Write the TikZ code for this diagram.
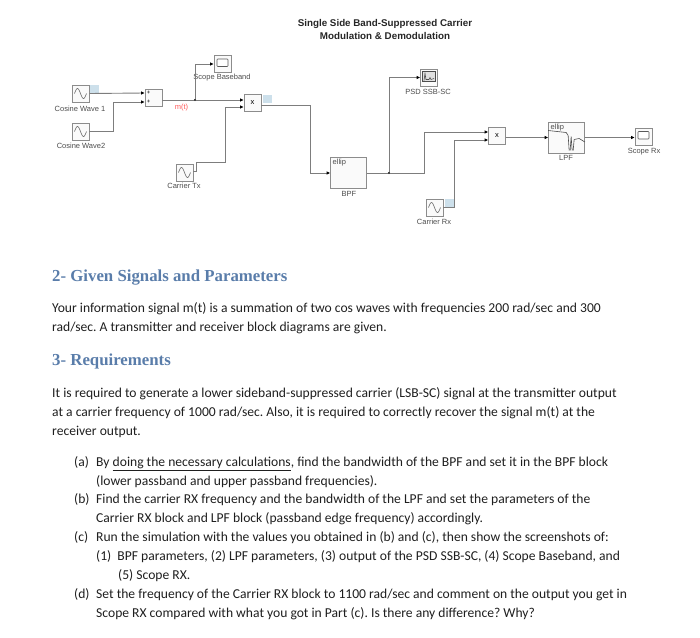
\documentclass[tikz,border=0pt]{standalone}
\usepackage{fontspec}
\setmainfont{Carlito}
\newfontfamily\labelfont{Liberation Sans}
\newfontfamily\headfont{Liberation Serif}
\usetikzlibrary{positioning,calc,arrows.meta}
\definecolor{headblue}{RGB}{90,125,170}
\definecolor{tagblue}{RGB}{205,224,235}
\definecolor{wiregray}{RGB}{125,125,125}
\newcommand{\sineicon}[1]{%
  \draw[shift={(#1)},black!60,line width=0.6pt,domain=-6:6,samples=30,smooth]
    plot (\x,{-5*sin(\x*30+180)});}

\begin{document}
\frenchspacing
\begin{tikzpicture}[x=1pt,y=-1pt,font=\labelfont\fontsize{7.5}{9}\selectfont]
  \tikzset{
    block/.style={draw=black!45,fill=black!2,line width=0.7pt,inner sep=0pt,
                  minimum width=17pt,minimum height=17pt},
    filt/.style={block,minimum width=36pt,minimum height=31pt},
    tag/.style={fill=tagblue,inner sep=0pt,minimum width=9pt,minimum height=8pt},
    blab/.style={text=black!70,inner sep=0pt},
    wire/.style={draw=wiregray,line width=0.9pt},
    sig/.style={wire,-{Latex[length=3.5pt,width=3.5pt,black]}},
    dot/.style={circle,fill=black,inner sep=0pt,minimum size=2.2pt},
    body/.style={anchor=base west,inner sep=0pt,text=black!88,
                 font=\rmfamily\fontsize{13.6}{15}\selectfont},
    head/.style={anchor=base west,inner sep=0pt,text=headblue,
                 font=\headfont\bfseries\fontsize{16.8}{18}\selectfont},
    ttl/.style={inner sep=0pt,text=black!85,font=\labelfont\bfseries\fontsize{9.8}{11}\selectfont},
  }
  \useasboundingbox (0,0) rectangle (700,637);
  % ---- title ----
  \node[ttl] (title1) at (385,24) {Single Side Band-Suppressed Carrier};
  \node[ttl] (title2) at (385,35.5) {Modulation \& Demodulation};
  % ---- sources ----
  \node[block] (cosa) at (80.5,93.5) {};
  \node[block] (cosb) at (80.5,131.5) {};
  \node[block] (cartx) at (184.5,172.5) {};
  \node[block] (carrx) at (434.5,207.5) {};
  \foreach \n in {cosa,cosb,cartx,carrx} {\sineicon{\n}}
  \node[tag] (tagcosa) at (94.5,89) {};
  \node[tag,minimum height=9pt] (tagcarrx) at (449,203.5) {};
  \node[blab] (labcosa) at (80,108.5) {Cosine Wave 1};
  \node[blab] (labcosb) at (81,146) {Cosine Wave2};
  \node[blab] (labcartx) at (184,186) {Carrier Tx};
  \node[blab] (labcarrx) at (434,222) {Carrier Rx};
  % ---- sum and products ----
  \node[block] (sum) at (153.5,97.5) {};
  \node[font=\labelfont\fontsize{6}{6}\selectfont,inner sep=0pt] (plusa) at (148.5,93) {+};
  \node[font=\labelfont\fontsize{6}{6}\selectfont,inner sep=0pt] (plusb) at (148.5,102) {+};
  \node[block] (prodtx) at (252.5,103) {x};
  \node[tag] (tagprod) at (267,99) {};
  \node[block] (prodrx) at (497,136) {x};
  \node[blab,text=red!65!white] (labm) at (181.5,108) {m(t)};
  % ---- scopes ----
  \node[block] (scopeb) at (222.5,64) {};
  \node[block] (psd) at (429,77.5) {};
  \node[block] (scoper) at (643.5,136.5) {};
  \foreach \n in {scopeb,scoper} {
    \draw[black!65,line width=0.6pt,rounded corners=0.8pt,fill=white]
      ($(\n)+(-5.5,-5)$) rectangle ($(\n)+(5.5,2.5)$);
  }
  \draw[black!70,line width=0.6pt,fill=black!12] ($(psd)+(-6.5,-6)$) rectangle ($(psd)+(6.5,4)$);
  \draw[black!70,line width=0.6pt] ($(psd)+(-5,3)$) -- ($(psd)+(-4,-4)$) -- ($(psd)+(-3,2)$)
    -- ($(psd)+(0,2)$) -- ($(psd)+(1,0)$) -- ($(psd)+(2,2)$) -- ($(psd)+(5,1)$);
  \node[blab] (labscopeb) at (222,78) {Scope Baseband};
  \node[blab] (labpsd) at (428,92) {PSD SSB-SC};
  \node[blab] (labscoper) at (644,152) {Scope Rx};
  % ---- filters ----
  \node[filt] (bpf) at (348.5,172.5) {};
  \node[filt] (lpf) at (566.5,137.5) {};
  \node[blab,anchor=north west] (ellbpf) at (332.5,158.5) {ellip};
  \node[blab,anchor=north west] (elllpf) at (550.5,123.5) {ellip};
  \draw[black!70,line width=0.6pt] ($(lpf.west)+(0,-7)$) -- ++(18,2) -- ++(2,3) -- ++(1,15)
    ++(1,0) -- ++(1,-14) -- ++(1,14) ++(1,0) -- ++(1,-11) -- ++(5,-1) -- (lpf.east |- 0,142);
  \node[blab] (labbpf) at (349,194) {BPF};
  \node[blab] (lablpf) at (566,158) {LPF};
  % ---- wires ----
  \node[dot] (jtx) at (195,100) {};
  \node[dot] (jrx) at (389,173) {};
  \coordinate (sumout) at (sum.east |- jtx);
  \draw[wire] (sumout) -- (jtx);
  \draw[sig] (cosa.east) -- (sum.west |- plusa);
  \draw[sig] (cosb.east) -| (113,102) -- (sum.west |- plusb);
  \draw[sig] (jtx) |- (scopeb.west);
  \draw[sig] (jtx) -- (prodtx.west |- jtx);
  \coordinate (cartxout) at (cartx.east |- 0,171);
  \draw[sig] (cartxout) -- (196,171) |- (225,162) |- (prodtx.west |- 0,107);
  \coordinate (prodtxout) at (prodtx.east |- 0,105);
  \draw[sig] (prodtxout) -| (310,173) -- (bpf.west |- jrx);
  \coordinate (bpfout) at (bpf.east |- jrx);
  \draw[wire] (bpfout) -- (jrx);
  \draw[sig] (jrx) |- (psd.west);
  \draw[sig] (jrx) -| (424,132) -- (prodrx.west |- 0,132);
  \coordinate (carrxout) at (carrx.east);
  \draw[sig] (carrxout) -| (454,140) -- (prodrx.west |- 0,140);
  \draw[sig] (prodrx.east |- lpf.west) -- (lpf.west);
  \draw[sig] (lpf.east) -- (scoper.west |- lpf.east);
  % ---- text ----
  \node[head] (secgiven) at (52,281.5) {2- Given Signals and Parameters};
  \node[body] (paraa) at (52,312) {Your information signal m(t) is a summation of two cos waves with frequencies 200 rad/sec and 300};
  \node[body] (parab) at (52,331) {rad/sec. A transmitter and receiver block diagrams are given.};
  \node[head] (secreq) at (52,365.5) {3- Requirements};
  \node[body] (parac) at (52,397) {It is required to generate a lower sideband-suppressed carrier (LSB-SC) signal at the transmitter output};
  \node[body] (parad) at (52,416) {at a carrier frequency of 1000 rad/sec. Also, it is required to correctly recover the signal m(t) at the};
  \node[body] (parae) at (52,435) {receiver output.};
  \node[body] (ita) at (74,466) {(a)};
  \node[body] (itb) at (74,503) {(b)};
  \node[body] (itc) at (74,541) {(c)};
  \node[body] (itd) at (74,598) {(d)};
  \node[body] (itaa) at (96,466) {By \underline{doing the necessary calculations}, find the bandwidth of the BPF and set it in the BPF block};
  \node[body] (itab) at (96,485) {(lower passband and upper passband frequencies).};
  \node[body] (itba) at (96,503) {Find the carrier RX frequency and the bandwidth of the LPF and set the parameters of the};
  \node[body] (itbb) at (96,522) {Carrier RX block and LPF block (passband edge frequency) accordingly.};
  \node[body] (itca) at (96,541) {Run the simulation with the values you obtained in (b) and (c), then show the screenshots of:};
  \node[body] (itcb) at (96,560) {(1)\ \ BPF parameters, (2) LPF parameters, (3) output of the PSD SSB-SC, (4) Scope Baseband, and};
  \node[body] (itcc) at (118,579) {(5) Scope RX.};
  \node[body] (itda) at (96,598) {Set the frequency of the Carrier RX block to 1100 rad/sec and comment on the output you get in};
  \node[body] (itdb) at (96,617) {Scope RX compared with what you got in Part (c). Is there any difference? Why?};
\end{tikzpicture}
\end{document}
